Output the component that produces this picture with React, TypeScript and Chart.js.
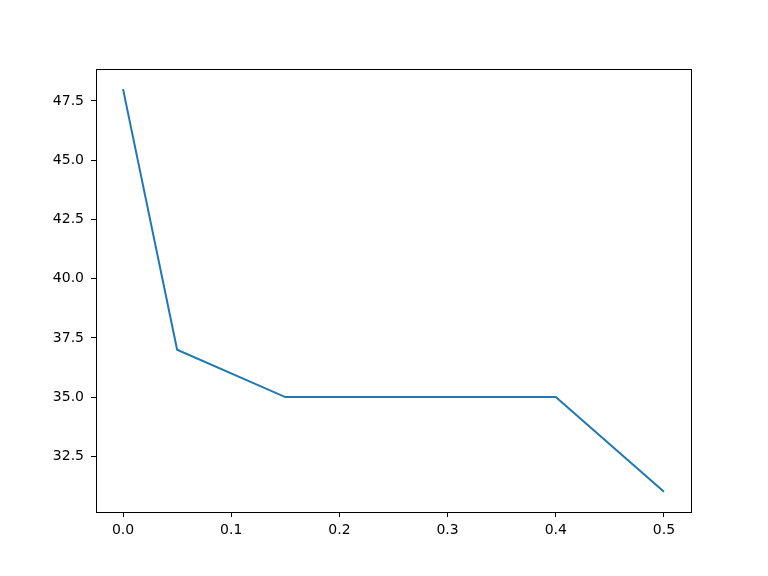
import React, { useEffect, useRef } from "react";
import { Chart, registerables } from "chart.js";

Chart.register(...registerables);

const xValues = [0.0, 0.05, 0.15, 0.4, 0.5];
const yValues = [48, 37, 35, 35, 31];
const xTicks = [0.0, 0.1, 0.2, 0.3, 0.4, 0.5];
const yTicks = [32.5, 35.0, 37.5, 40.0, 42.5, 45.0, 47.5];

const boxPlugin = {
  id: "boxPlugin",
  afterDraw(chart: any) {
    const { ctx, chartArea } = chart;
    ctx.save();
    ctx.strokeStyle = "#000";
    ctx.lineWidth = 1;
    ctx.strokeRect(
      Math.round(chartArea.left) + 0.5,
      Math.round(chartArea.top) + 0.5,
      Math.round(chartArea.right - chartArea.left),
      Math.round(chartArea.bottom - chartArea.top)
    );
    ctx.restore();
  },
};

export default function App() {
  const ref = useRef<HTMLCanvasElement | null>(null);
  useEffect(() => {
    document.body.style.margin = "0";
    if (!ref.current) return;
    const font = { family: "DejaVu Sans", size: 14 };
    const chart = new Chart(ref.current, {
      type: "line",
      data: {
        datasets: [
          {
            data: xValues.map((x, i) => ({ x, y: yValues[i] })),
            borderColor: "#1f77b4",
            borderWidth: 2,
            pointRadius: 0,
            fill: false,
            tension: 0,
          },
        ],
      },
      options: {
        animation: false,
        responsive: false,
        devicePixelRatio: 1,
        layout: { padding: { left: 0, right: 77, top: 69, bottom: 0 } },
        plugins: { legend: { display: false }, tooltip: { enabled: false } },
        scales: {
          x: {
            type: "linear",
            min: -0.025,
            max: 0.525,
            afterBuildTicks: (s: any) => {
              s.ticks = xTicks.map((v) => ({ value: v }));
            },
            afterFit: (s: any) => {
              s.height = 64;
            },
            ticks: {
              color: "#000",
              font,
              padding: 5,
              maxRotation: 0,
              callback: (v: any) => Number(v).toFixed(1),
            },
            grid: {
              display: true,
              drawOnChartArea: false,
              drawTicks: true,
              tickLength: 5,
              color: "#000",
            },
            border: { display: true, color: "#000" },
          },
          y: {
            type: "linear",
            min: 30.15,
            max: 48.85,
            afterBuildTicks: (s: any) => {
              s.ticks = yTicks.map((v) => ({ value: v }));
            },
            afterFit: (s: any) => {
              s.width = 96;
            },
            ticks: {
              color: "#000",
              font,
              padding: 7,
              callback: (v: any) => Number(v).toFixed(1),
            },
            grid: {
              display: true,
              drawOnChartArea: false,
              drawTicks: true,
              tickLength: 5,
              color: "#000",
            },
            border: { display: true, color: "#000" },
          },
        },
      },
      plugins: [boxPlugin],
    });
    return () => chart.destroy();
  }, []);
  return (
    <div style={{ width: 768, height: 576, background: "#fff" }}>
      <canvas ref={ref} width={768} height={576} style={{ display: "block" }} />
    </div>
  );
}
